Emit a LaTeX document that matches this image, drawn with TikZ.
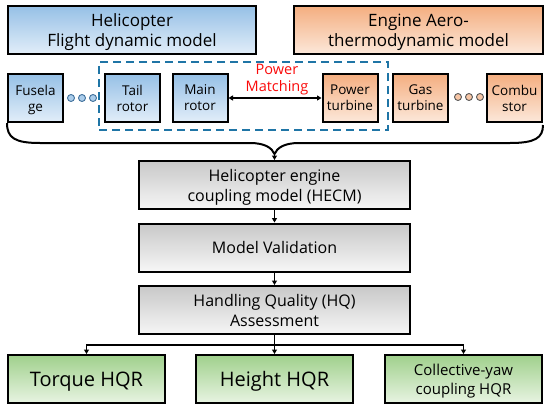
\documentclass[tikz,border=0pt]{standalone}
\usepackage{fontspec}
\setmainfont{Open Sans}
\usetikzlibrary{arrows.meta}
\definecolor{bluetop}{RGB}{150,192,230}
\definecolor{bluebot}{RGB}{226,238,249}
\definecolor{orgtop}{RGB}{244,174,128}
\definecolor{orgbot}{RGB}{252,232,218}
\definecolor{graytop}{RGB}{200,200,200}
\definecolor{graybot}{RGB}{246,246,246}
\definecolor{grntop}{RGB}{160,208,140}
\definecolor{grnbot}{RGB}{232,244,226}
\definecolor{dashblue}{RGB}{31,117,166}
\definecolor{pmred}{RGB}{250,10,10}
\definecolor{dotline}{RGB}{65,113,156}
\begin{document}
\begin{tikzpicture}[x=1pt,y=-1pt,
  box/.style={draw=black,line width=2pt,align=center,inner sep=0pt,text depth=0pt},
  bluebox/.style={box,top color=bluetop,bottom color=bluebot},
  orgbox/.style={box,top color=orgtop,bottom color=orgbot},
  graybox/.style={box,top color=graytop,bottom color=graybot,minimum width=271pt,minimum height=48pt,font=\fontsize{16}{20}\selectfont},
  grnbox/.style={box,top color=grntop,bottom color=grnbot,minimum width=157pt,minimum height=48pt},
  bigbox/.style={minimum width=248pt,minimum height=48pt,font=\fontsize{17}{20}\selectfont},
  smallbox/.style={minimum width=55pt,minimum height=48pt,font=\fontsize{13.5}{16}\selectfont},
  arr/.style={line width=1.5pt,-{Triangle[length=4.5pt,width=5pt]}},
  dotb/.style={circle,draw=dotline,line width=0.9pt,fill=bluetop!80,minimum size=7pt,inner sep=0pt},
  doto/.style={circle,draw=black!65,line width=0.9pt,fill=orgtop!70,minimum size=7pt,inner sep=0pt}]
\useasboundingbox (0,0) rectangle (550,410);
% top models
\node[bluebox,bigbox] (heli) at (132,30) {Helicopter\\Flight dynamic model};
\node[orgbox,bigbox,minimum width=249pt] (eng) at (418.5,30) {Engine Aero-\\thermodynamic model};
% dashed group
\node[draw=dashblue,line width=2pt,dash pattern=on 8pt off 5pt,minimum width=289pt,minimum height=68pt,inner sep=0pt] (grp) at (243.5,96) {};
% components
\node[bluebox,smallbox] (fus) at (35.5,98) {Fusela\\ge};
\node[bluebox,smallbox] (tail) at (132.5,98) {Tail\\rotor};
\node[bluebox,smallbox] (main) at (200,98) {Main\\rotor};
\node[orgbox,smallbox] (pt) at (350,98) {Power\\turbine};
\node[orgbox,smallbox] (gt) at (420.5,98) {Gas\\turbine};
\node[orgbox,smallbox] (comb) at (514.5,98) {Combu\\stor};
\node[dotb] (d1) at (71,98) {};
\node[dotb] (d2) at (82,98) {};
\node[dotb] (d3) at (93,98) {};
\node[doto] (e1) at (458,97) {};
\node[doto] (e2) at (469,97) {};
\node[doto] (e3) at (480,97) {};
\draw[line width=1.5pt,{Triangle[length=4.5pt,width=5pt]}-{Triangle[length=4.5pt,width=5pt]}] (main) -- (pt);
\node[text=pmred,align=center,font=\fontsize{14.5}{17}\selectfont,inner sep=0pt] (pm) at (277,80) {Power\\Matching};
% brace
\coordinate (brtip) at (274.5,154);
\draw[line width=2pt] (7,123) .. controls (7,138) and (15,143) .. (40,143) -- (250,143)
  .. controls (265,143) and (272,148) .. (brtip)
  .. controls (277,148) and (284,143) .. (299,143) -- (510,143)
  .. controls (535,143) and (543,138) .. (543,125);
% process
\node[graybox] (hecm) at (274.5,185) {Helicopter engine\\coupling model (HECM)};
\node[graybox] (val) at (274.5,247.5) {Model Validation};
\node[graybox] (hq) at (274.5,310) {Handling Quality (HQ)\\Assessment};
\draw[arr] (brtip) -- (hecm.north);
\draw[arr] (hecm) -- (val);
\draw[arr] (val) -- (hq);
% outputs
\node[grnbox,font=\fontsize{20}{24}\selectfont] (tq) at (86.5,379) {Torque HQR};
\node[grnbox,font=\fontsize{20}{24}\selectfont] (ht) at (274.5,379) {Height HQR};
\node[grnbox,font=\fontsize{15}{19}\selectfont] (cy) at (463.5,379) {Collective-yaw\\coupling HQR};
\coordinate (br) at (274.5,345);
\draw[line width=1.5pt] (hq.south) -- (br);
\draw[arr] (br) -| (tq.north);
\draw[arr] (br) -| (cy.north);
\draw[arr] (br) -- (ht.north);
\end{tikzpicture}
\end{document}
